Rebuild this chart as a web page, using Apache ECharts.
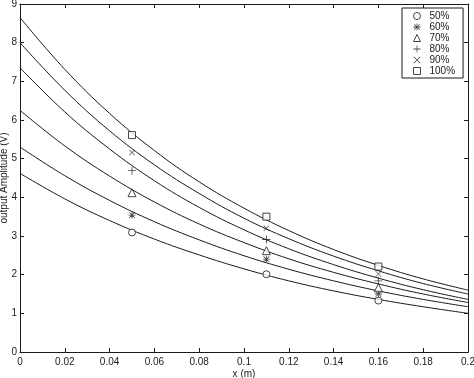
<!DOCTYPE html>
<html lang="en">
<head>
<meta charset="UTF-8"/>
<title>Output amplitude vs x</title>
<script type="text/javascript" src="https://cdn.jsdelivr.net/npm/echarts@6/dist/echarts.min.js"></script>
<style>
  html, body { margin: 0; padding: 0; background: #fff; }
  #main { width: 474px; height: 378px; }
</style>
</head>
<body>
<div id="main"></div>
<script type="text/javascript">
// sample positions along the fitted curves
var xs = [0, 0.02, 0.04, 0.06, 0.08, 0.1, 0.12, 0.14, 0.16, 0.18, 0.2];
// fitted curves
var fit100 = [8.65, 7.31, 6.17, 5.21, 4.40, 3.72, 3.14, 2.65, 2.24, 1.89, 1.60];
var fit90  = [8.00, 6.77, 5.72, 4.84, 4.10, 3.46, 2.93, 2.48, 2.10, 1.77, 1.50];
var fit80  = [7.35, 6.21, 5.25, 4.43, 3.74, 3.16, 2.67, 2.26, 1.91, 1.61, 1.36];
var fit70  = [6.25, 5.33, 4.55, 3.88, 3.31, 2.83, 2.41, 2.06, 1.76, 1.50, 1.28];
var fit60  = [5.30, 4.56, 3.92, 3.37, 2.90, 2.49, 2.14, 1.84, 1.58, 1.36, 1.17];
var fit50  = [4.62, 3.96, 3.40, 2.92, 2.51, 2.15, 1.84, 1.58, 1.36, 1.17, 1.00];

// measured points
var xm = [0.05, 0.11, 0.16];
var m50  = [3.09, 2.01, 1.33];
var m60  = [3.54, 2.40, 1.50];
var m70  = [4.12, 2.62, 1.66];
var m80  = [4.69, 2.91, 1.84];
var m90  = [5.16, 3.20, 2.02];
var m100 = [5.61, 3.50, 2.21];

var xTicks = ['0', '0.02', '0.04', '0.06', '0.08', '0.1', '0.12', '0.14', '0.16', '0.18', '0.2'];

var ink = '#1a1a1a';
var font = 'Liberation Sans';

function pairs(xv, yv) {
    var out = [];
    for (var i = 0; i < xv.length; i++) out.push([xv[i], yv[i]]);
    return out;
}

var plusPath = 'path://M4,0h1v9h-1z M0,4h9v1h-9z';
var crossPath = 'path://M0.7,0L4.5,3.8L8.3,0L9,0.7L5.2,4.5L9,8.3L8.3,9L4.5,5.2L0.7,9L0,8.3L3.8,4.5L0,0.7z';
var starPath = 'path://M4,0h1v9h-1z M0,4h9v1h-9z M1.2,0.5L4.5,3.8L7.8,0.5L8.5,1.2L5.2,4.5L8.5,7.8L7.8,8.5L4.5,5.2L1.2,8.5L0.5,7.8L3.8,4.5L0.5,1.2z';

var hollow = { color: '#fff', borderColor: ink, borderWidth: 1 };
var solid = { color: ink };

var fits = [fit100, fit90, fit80, fit70, fit60, fit50];
var series = [];
for (var k = 0; k < fits.length; k++) {
    series.push({
        name: 'fit' + k,
        type: 'line',
        data: pairs(xs, fits[k]),
        smooth: 0.4,
        showSymbol: false,
        silent: true,
        lineStyle: { color: ink, width: 1 },
        z: 2
    });
}
var marks = [
    { name: '50%', data: m50, symbol: 'circle', size: 7, style: hollow },
    { name: '60%', data: m60, symbol: starPath, size: 7, style: solid },
    { name: '70%', data: m70, symbol: 'triangle', size: 8, style: hollow },
    { name: '80%', data: m80, symbol: plusPath, size: 8, style: solid },
    { name: '90%', data: m90, symbol: crossPath, size: 6, style: solid },
    { name: '100%', data: m100, symbol: 'rect', size: 7, style: hollow }
];
marks.forEach(function (m) {
    series.push({
        name: m.name,
        type: 'scatter',
        data: pairs(xm, m.data),
        symbol: m.symbol,
        symbolSize: m.size,
        itemStyle: m.style,
        z: 5
    });
});

var chart = echarts.init(document.getElementById('main'));
chart.setOption({
    animation: false,
    backgroundColor: '#fff',
    textStyle: { fontFamily: font },
    grid: { left: 20, right: 6, top: 4, bottom: 26, containLabel: false, outerBoundsMode: 'none' },
    legend: {
        data: marks.map(function (m) { return m.name; }),
        orient: 'vertical',
        left: 402,
        top: 8,
        padding: [3, 8, 2, 11],
        itemWidth: 7,
        itemHeight: 7,
        itemGap: 1,
        align: 'left',
        borderColor: ink,
        borderWidth: 1,
        backgroundColor: '#fff',
        selectedMode: false,
        itemStyle: { borderWidth: 1 },
        textStyle: { fontFamily: font, fontSize: 10, color: ink, padding: [0, 0, 0, 4] }
    },
    xAxis: [{
        type: 'value',
        min: 0, max: 0.2, interval: 0.02,
        name: 'x (m)',
        nameLocation: 'middle',
        nameGap: 17,
        nameMoveOverlap: false,
        nameTextStyle: { fontFamily: font, fontSize: 10, color: ink },
        axisLine: { onZero: false, lineStyle: { color: ink, width: 1 } },
        axisTick: { inside: true, length: 4, lineStyle: { color: ink } },
        axisLabel: {
            fontFamily: font, fontSize: 10, color: ink, margin: 5,
            formatter: function (v) { return xTicks[Math.round(v / 0.02)]; }
        },
        splitLine: { show: false }
    }, {
        type: 'value',
        position: 'top',
        min: 0, max: 0.2, interval: 0.02,
        axisLine: { show: true, onZero: false, lineStyle: { color: ink, width: 1 } },
        axisTick: { inside: true, length: 4, lineStyle: { color: ink } },
        axisLabel: { show: false },
        splitLine: { show: false }
    }],
    yAxis: [{
        type: 'value',
        min: 0, max: 9, interval: 1,
        name: 'output Amplitude (V)',
        nameLocation: 'middle',
        nameGap: 11,
        nameMoveOverlap: false,
        nameTextStyle: { fontFamily: font, fontSize: 10, color: ink },
        axisLine: { show: true, onZero: false, lineStyle: { color: ink, width: 1 } },
        axisTick: { show: true, inside: true, length: 4, lineStyle: { color: ink } },
        axisLabel: { fontFamily: font, fontSize: 10, color: ink, margin: 3 },
        splitLine: { show: false }
    }, {
        type: 'value',
        position: 'right',
        min: 0, max: 9, interval: 1,
        axisLine: { show: true, onZero: false, lineStyle: { color: ink, width: 1 } },
        axisTick: { show: true, inside: true, length: 4, lineStyle: { color: ink } },
        axisLabel: { show: false },
        splitLine: { show: false }
    }],
    series: series
});
</script>
</body>
</html>
